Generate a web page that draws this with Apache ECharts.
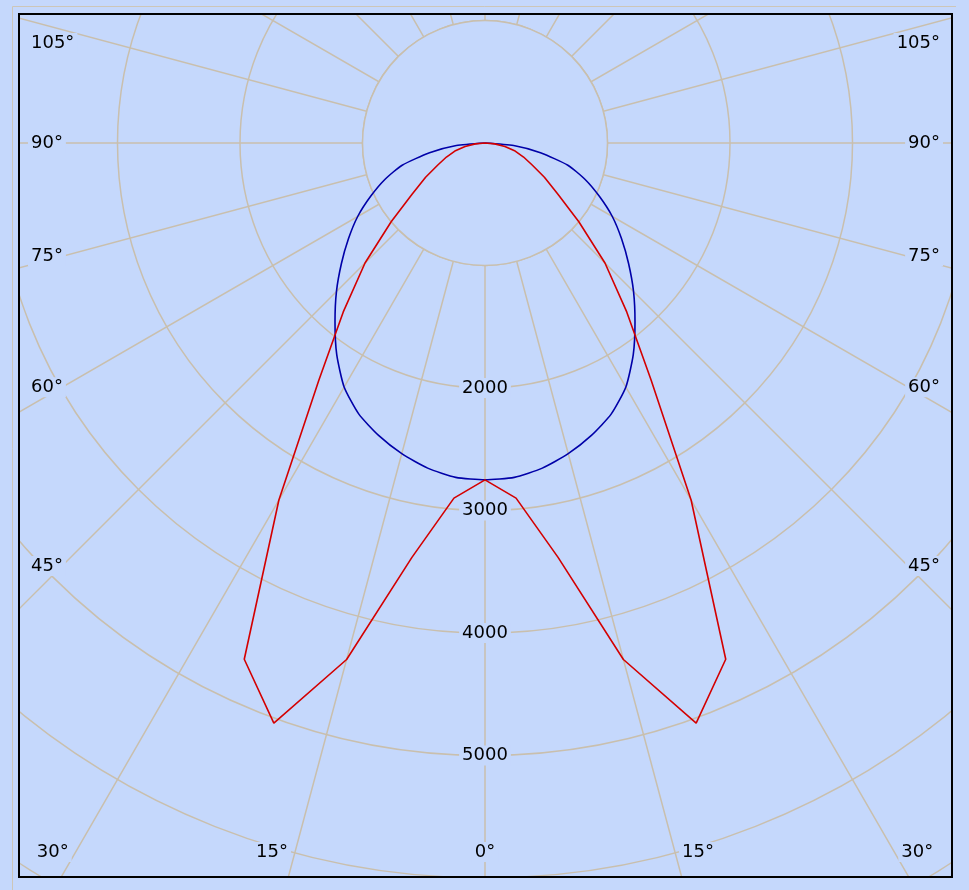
<!DOCTYPE html>
<html>
<head>
<meta charset="utf-8">
<script src="https://cdn.jsdelivr.net/npm/echarts@6/dist/echarts.min.js"></script>
<style>
html, body { margin: 0; padding: 0; background: #c5d8fc; }
#main { width: 969px; height: 890px; }
</style>
</head>
<body>
<div id="main"></div>
<script>
// gamma angles (deg from nadir), same on both sides of the plot
var angles = [0, 5, 10, 15, 20, 25, 30, 35, 40, 45, 50, 55, 60, 65, 70, 75, 80, 85, 90];
// intensity, red curve (C0/C180)
var redValues = [2750, 2910, 3435, 4365, 5040, 4650, 3365, 2365, 1800, 1385, 1000, 725, 560, 425, 335, 255, 165, 80, 0];
// intensity, blue curve (C90/C270)
var blueValues = [2750, 2740, 2695, 2625, 2540, 2440, 2300, 2110, 1905, 1715, 1530, 1360, 1200, 1030, 870, 700, 460, 235, 0];
var angleTicks = [0, 15, 30, 45, 60, 75, 90, 105];
var radiusTicks = [2000, 3000, 4000, 5000];

var bg = '#c5d8fc';
var gridColor = '#c9bfad';
var labelFont = '18px "DejaVu Sans", sans-serif';
var cx = 485, cy = 143;
var rMax = 8000, pxPerUnit = 122.5 / 1000;
var frame = { left: 19, top: 14, right: 952, bottom: 877 };

// build one polyline from right side (-90) through nadir to left side (+90)
function curve(vals) {
    var right = [], left = [];
    angles.forEach(function (a, i) {
        right.unshift([vals[i], -a]);
        if (i > 0) left.push([vals[i], a]);
    });
    return right.concat(left);
}

function textEl(txt, x, y, align, vAlign) {
    return {
        type: 'text', z: 20,
        style: {
            text: txt, x: x, y: y, font: labelFont, fill: '#000',
            align: align, verticalAlign: vAlign,
            textAlign: align, textVerticalAlign: vAlign,
            backgroundColor: bg, padding: [1, 3]
        }
    };
}

var graphics = [];
// inner 1000 ring: no spokes inside it
graphics.push({
    type: 'circle', z: 1,
    shape: { cx: cx, cy: cy, r: 1000 * pxPerUnit },
    style: { fill: bg, stroke: gridColor, lineWidth: 1.5 }
});
// radius labels along the nadir spoke
radiusTicks.forEach(function (v) {
    graphics.push(textEl(String(v), cx, cy + v * pxPerUnit, 'center', 'middle'));
});
// angle labels at the frame
angleTicks.forEach(function (t) {
    var rad = t * Math.PI / 180;
    [-1, 1].forEach(function (s) {
        if (t === 0 && s > 0) return;
        if (t >= 45) {
            var y = cy + 423 / Math.tan(rad);
            y = Math.max(frame.top + 29, Math.min(frame.bottom - 25, y));
            var x = s < 0 ? frame.left + 9 : frame.right - 9;
            graphics.push(textEl(t + '°', x, y, s < 0 ? 'left' : 'right', 'middle'));
        } else {
            var yb = frame.bottom - 25;
            var dx = (yb - cy) * Math.tan(rad);
            if (t === 0) {
                graphics.push(textEl('0°', cx, yb, 'center', 'middle'));
            } else {
                graphics.push(textEl(t + '°', cx + s * (dx + 4), yb, s < 0 ? 'right' : 'left', 'middle'));
            }
        }
    });
});
// masks outside the plot frame
[[0, 0, 969, frame.top], [0, frame.bottom, 969, 890 - frame.bottom],
 [0, 0, frame.left, 890], [frame.right, 0, 969 - frame.right, 890]].forEach(function (r) {
    graphics.push({ type: 'rect', z: 30, shape: { x: r[0], y: r[1], width: r[2], height: r[3] }, style: { fill: bg } });
});
graphics.push({
    type: 'polyline', z: 31,
    shape: { points: [[12.5, 890], [12.5, 6.5], [956, 6.5]] },
    style: { stroke: '#cdc6b8', lineWidth: 1, fill: null }
});
graphics.push({
    type: 'rect', z: 31,
    shape: { x: frame.left, y: frame.top, width: frame.right - frame.left, height: frame.bottom - frame.top },
    style: { fill: null, stroke: '#000', lineWidth: 2 }
});

var chart = echarts.init(document.getElementById('main'));
chart.setOption({
    backgroundColor: bg,
    animation: false,
    polar: { center: [cx, cy], radius: rMax * pxPerUnit },
    angleAxis: {
        type: 'value', min: -180, max: 180, interval: 15,
        startAngle: 90, clockwise: true,
        axisLine: { show: false }, axisTick: { show: false }, axisLabel: { show: false },
        splitLine: { show: true, lineStyle: { color: gridColor, width: 1.5 } }
    },
    radiusAxis: {
        type: 'value', min: 0, max: rMax, interval: 1000,
        axisLine: { show: false }, axisTick: { show: false }, axisLabel: { show: false },
        splitLine: { show: true, lineStyle: { color: gridColor, width: 1.5 } }
    },
    series: [
        {
            name: 'C90', type: 'line', coordinateSystem: 'polar', z: 3,
            data: curve(blueValues), symbol: 'none', smooth: 0.2,
            lineStyle: { color: '#0000a8', width: 1.6 }
        },
        {
            name: 'C0', type: 'line', coordinateSystem: 'polar', z: 4,
            data: curve(redValues), symbol: 'none',
            lineStyle: { color: '#d40000', width: 1.6 }
        }
    ],
    graphic: graphics
});
</script>
</body>
</html>
